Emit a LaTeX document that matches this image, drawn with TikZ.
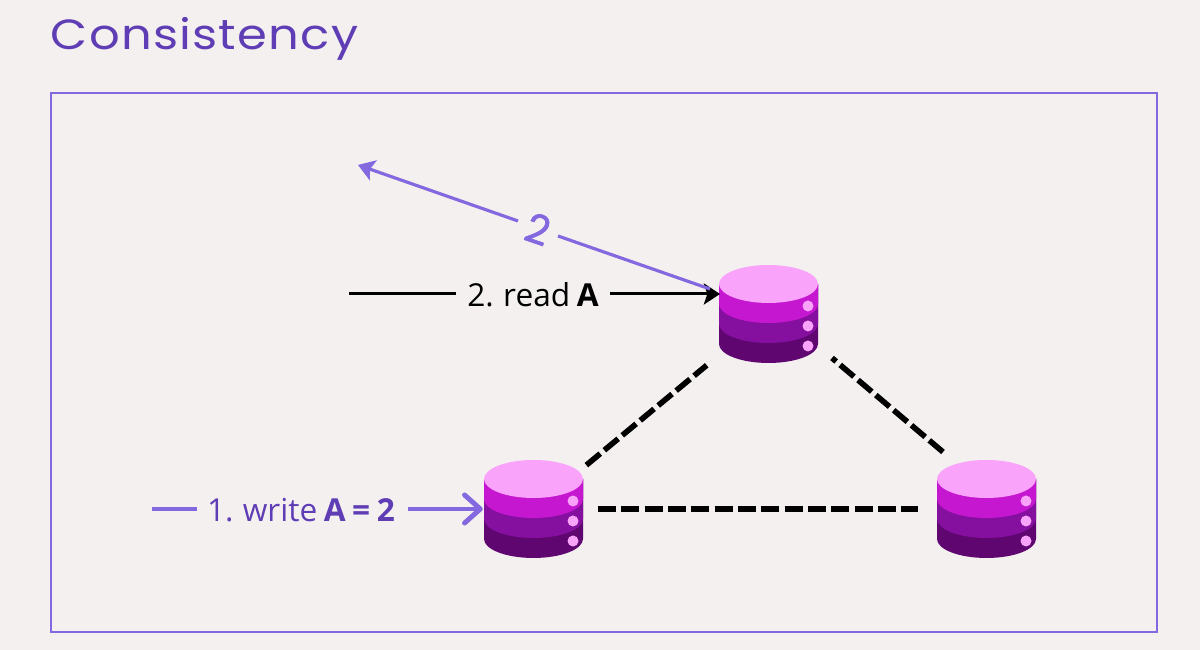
\documentclass[tikz,border=0pt]{standalone}
\usepackage{fontspec}
\setmainfont[WordSpace=0.8]{Open Sans}
\newfontfamily\titlefont[LetterSpace=3,FakeStretch=1.14]{Poppins}
\newfontfamily\numfont[FakeBold=1.6]{Poppins}
\usetikzlibrary{arrows.meta}
\definecolor{paper}{HTML}{F4F0F0}
\definecolor{violet}{HTML}{8468E0}
\definecolor{deepviolet}{HTML}{5F3DB5}
\definecolor{dbtopcol}{HTML}{F9A3FB}
\definecolor{dbone}{HTML}{C516D0}
\definecolor{dbtwo}{HTML}{850F9E}
\definecolor{dbthree}{HTML}{5F0670}
\tikzset{
  dbbox/.style={minimum width=1cm,minimum height=1cm,inner sep=0pt},
  sync/.style={line width=1.6pt,dash pattern=on 5.12pt off 1.52pt},
  label/.style={inner sep=0pt,font=\fontsize{9}{11}\selectfont},
  head/.style={-{Stealth[length=4.6pt,width=6pt,inset=1pt]}},
}
% one database: name, position
\newcommand{\dbstack}[2]{
\begin{scope}[shift={(#2)}]
\foreach \ybot/\col in {-.30/dbthree,-.10/dbtwo,.10/dbone}
  \fill[\col] (-.495,.30) -- (-.495,\ybot) arc[start angle=180,end angle=360,x radius=.495,y radius=.19] -- (.495,.30) -- cycle;
\fill[dbtopcol] (0,.30) ellipse[x radius=.495,y radius=.19];
\foreach \ydot in {.08,-.12,-.32}
  \fill[dbtopcol] (.395,\ydot) circle[radius=.055];
\end{scope}
\node[dbbox] (#1) at (#2) {};
}
\begin{document}
\begin{tikzpicture}
\fill[paper] (0,0) rectangle (12,6.5);
\useasboundingbox (0,0) rectangle (12,6.5);
\node[anchor=west,inner sep=0pt,text=deepviolet,font=\titlefont\fontsize{12}{14}\selectfont] (title) at (0.50,6.11) {Consistency};
\draw[violet,line width=0.55pt] (0.51,0.18) rectangle (11.57,5.57);
% databases
\dbstack{dbtop}{7.685,3.36}
\dbstack{dbleft}{5.335,1.41}
\dbstack{dbright}{9.865,1.41}
% links between them
\draw[sync,shorten <=0.8pt,shorten >=4.1pt] (dbleft) -- (dbtop);
\draw[sync,shorten <=3.9pt,shorten >=5pt,yshift=-0.01cm] (dbleft) -- (dbright);
\coordinate (syncA) at (8.32,2.92);
\coordinate (syncB) at (9.43,1.98);
\draw[sync] (syncB) -- (syncA);
% write
\node[label,text=deepviolet] (writelabel) at (3.01,1.40) {1. write \textbf{A = 2}};
\coordinate (writestart) at (1.52,1.41);
\draw[violet,line width=1.4pt] (writestart) -- (1.97,1.41);
\draw[violet,line width=1.4pt,-{Straight Barb[length=4.5pt,width=8pt,round]}] (4.08,1.41) -- (dbleft.west);
% read
\node[label,text=black] (readlabel) at (5.33,3.55) {2. read \textbf{A}};
\coordinate (readstart) at (3.49,3.56);
\draw[line width=0.85pt] (readstart) -- (4.56,3.56);
\draw[line width=0.85pt,head] (6.10,3.56) -- (7.20,3.56);
% reply
\coordinate (replyend) at (3.58,4.85);
\coordinate (replystart) at (7.10,3.61);
\node[text=violet,rotate=-19,inner sep=0pt,font=\numfont\fontsize{11.5}{13}\selectfont] (replylabel) at (5.38,4.21) {2};
\draw[violet,line width=0.9pt] (replystart) -- (5.58,4.14);
\draw[violet,line width=0.9pt,head] (5.18,4.29) -- (replyend);
\end{tikzpicture}
\end{document}
